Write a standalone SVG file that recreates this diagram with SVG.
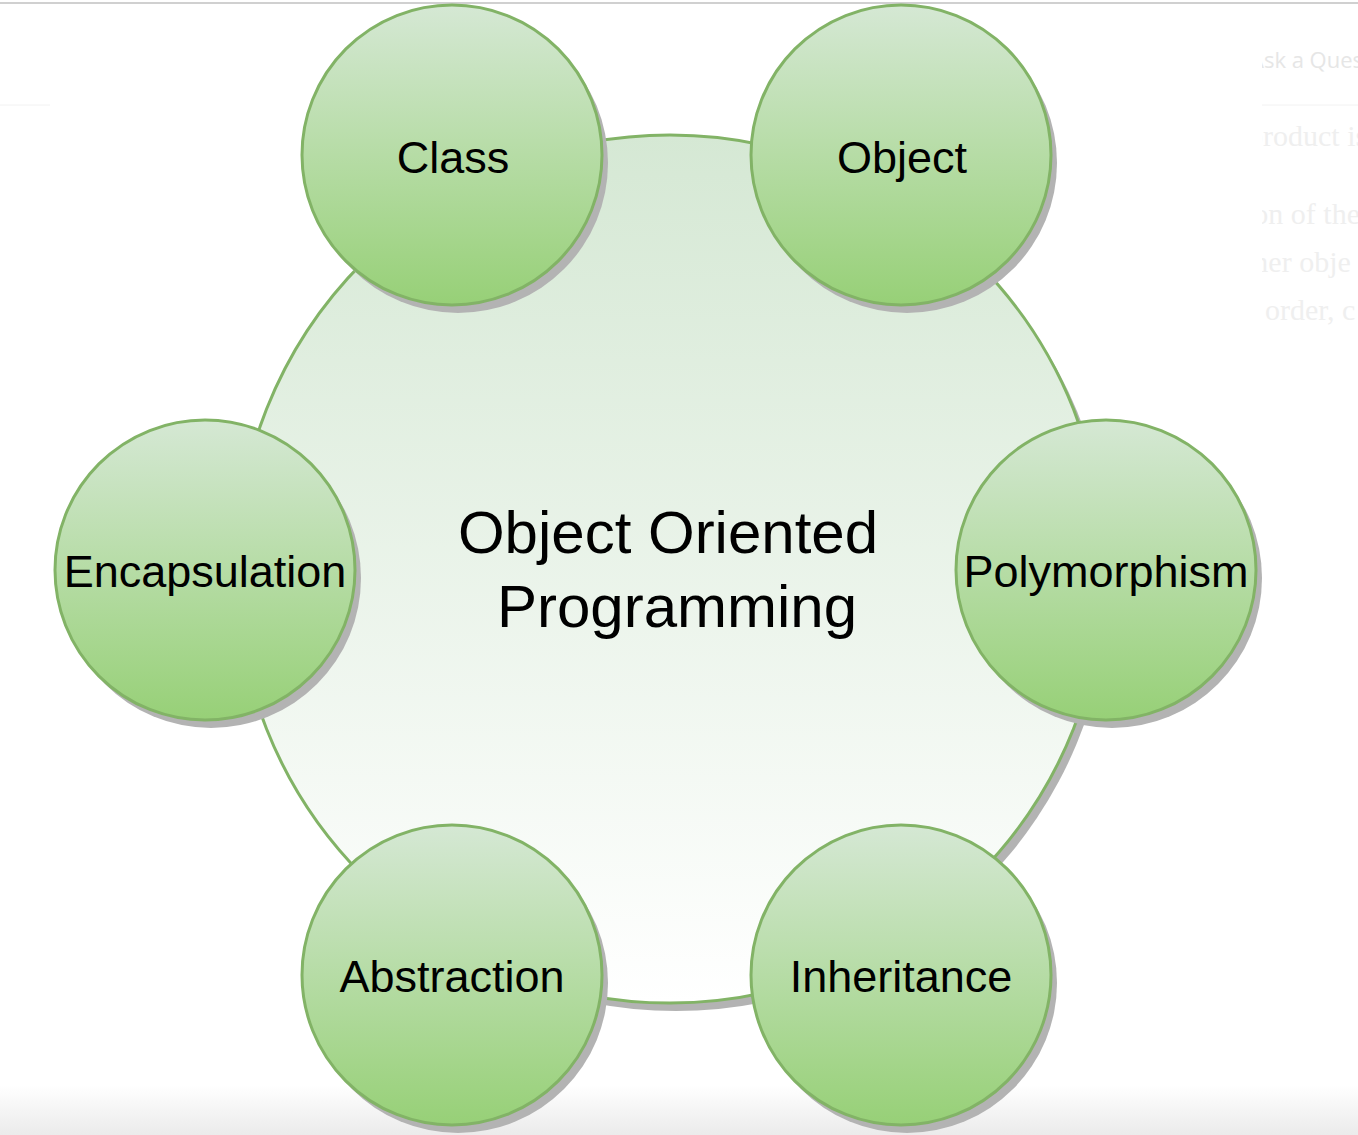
<svg xmlns="http://www.w3.org/2000/svg" width="1358" height="1135" viewBox="0 0 1358 1135">
<defs>
<linearGradient id="big" x1="0" y1="0" x2="0" y2="1"><stop offset="0" stop-color="#d5e8d4"/><stop offset="1" stop-color="#ffffff"/></linearGradient>
<linearGradient id="sm" x1="0" y1="0" x2="0" y2="1"><stop offset="0" stop-color="#d5e8d4"/><stop offset="1" stop-color="#97d077"/></linearGradient>
<linearGradient id="bot" x1="0" y1="0" x2="0" y2="1"><stop offset="0" stop-color="#ffffff"/><stop offset="1" stop-color="#ebebeb"/></linearGradient>
<clipPath id="cp"><rect x="1262" y="0" width="96" height="1135"/></clipPath>
</defs>
<style>
.sh{fill:#b3b3b3}
.n{fill:url(#sm);stroke:#82b366;stroke-width:3}
.t{font-family:"Liberation Sans",Arial,sans-serif;font-size:45px;text-anchor:middle;fill:#000}
.bg{font-family:"Liberation Serif",serif;font-size:30px;fill:#efefef}
</style>
<rect width="1358" height="1135" fill="#fff"/>
<rect y="1085" width="1358" height="50" fill="url(#bot)"/>
<line x1="0" y1="3" x2="1358" y2="3" stroke="#d0d0d0" stroke-width="2"/>
<line x1="0" y1="105" x2="50" y2="105" stroke="#f2f2f2"/>
<line x1="1262" y1="105" x2="1358" y2="105" stroke="#f2f2f2"/>
<g clip-path="url(#cp)">
<text x="1250" y="68" style="font-family:'Open Sans',sans-serif;font-size:22px;fill:#e6e6e6">Ask a Question</text>
<text class="bg" x="1248" y="146">product is</text>
<text class="bg" x="1245" y="224">ion of the</text>
<text class="bg" x="1245" y="272">mer obje</text>
<text class="bg" x="1265" y="320">order, c</text>
</g>
<g id="center">
<circle cx="676" cy="577" r="434" class="sh"/>
<circle cx="670" cy="569" r="434" fill="url(#big)" stroke="#82b366" stroke-width="3"/>
<text class="t" x="668" y="553" style="font-size:60px">Object Oriented</text>
<text class="t" x="677" y="627" style="font-size:60px">Programming</text>
</g>
<g id="class"><circle cx="458" cy="163" r="150" class="sh"/><circle cx="452" cy="155" r="150" class="n"/><text class="t" x="453" y="173">Class</text></g>
<g id="object"><circle cx="907" cy="163" r="150" class="sh"/><circle cx="901" cy="155" r="150" class="n"/><text class="t" x="902" y="173">Object</text></g>
<g id="encapsulation"><circle cx="211" cy="578" r="150" class="sh"/><circle cx="205" cy="570" r="150" class="n"/><text class="t" x="205" y="587">Encapsulation</text></g>
<g id="polymorphism"><circle cx="1112" cy="578" r="150" class="sh"/><circle cx="1106" cy="570" r="150" class="n"/><text class="t" x="1106" y="587">Polymorphism</text></g>
<g id="abstraction"><circle cx="458" cy="983" r="150" class="sh"/><circle cx="452" cy="975" r="150" class="n"/><text class="t" x="452" y="992">Abstraction</text></g>
<g id="inheritance"><circle cx="907" cy="983" r="150" class="sh"/><circle cx="901" cy="975" r="150" class="n"/><text class="t" x="901" y="992">Inheritance</text></g>
<g id="connectors"/>
</svg>
